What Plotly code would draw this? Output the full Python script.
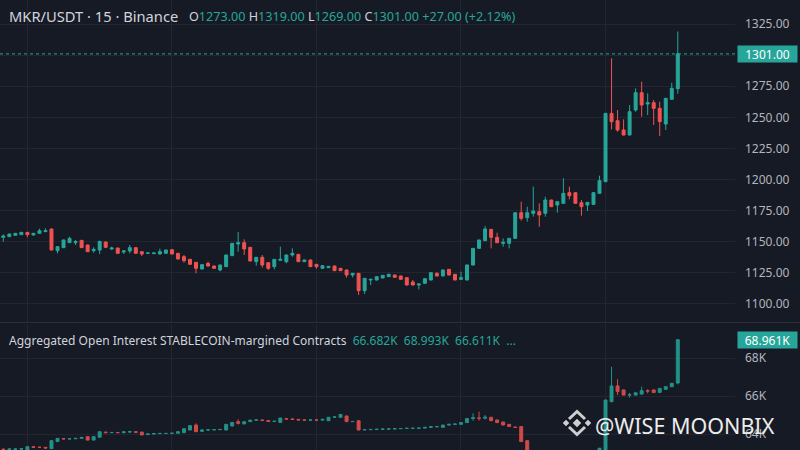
import pandas as pd
import plotly.graph_objects as go
from plotly.subplots import make_subplots

BG = "#161a25"
GRID = "#232632"
UP = "#26a69a"
DOWN = "#ef5350"
TEXT = "#d1d4dc"
AXIS_TEXT = "#b2b5be"
FONT = "Noto Sans"

START = "2024-03-06 23:00"

# MKR/USDT 15m candles
price_open = [
    1153.57, 1154.10, 1155.17, 1155.71, 1157.58, 1155.44, 1156.78, 1158.12, 1160.26, 1142.85,
    1145.26, 1149.28, 1149.28, 1151.15, 1147.40, 1142.85, 1143.39, 1149.81, 1144.19, 1144.99,
    1141.78, 1142.58, 1145.26, 1142.05, 1140.71, 1140.44, 1140.17, 1140.71, 1143.66, 1140.71,
    1138.03, 1135.88, 1133.47, 1128.12, 1132.67, 1130.53, 1127.31, 1129.99, 1138.83, 1148.21,
    1149.28, 1145.53, 1134.01, 1137.49, 1133.21, 1129.99, 1135.08, 1134.01, 1139.37, 1139.90,
    1134.01, 1135.35, 1131.87, 1128.65, 1129.19, 1130.53, 1128.65, 1127.31, 1123.29, 1124.63,
    1110.70, 1119.28, 1119.28, 1120.88, 1121.96, 1123.29, 1122.49, 1121.15, 1117.67, 1115.26,
    1116.60, 1119.28, 1124.63, 1122.49, 1127.85, 1123.83, 1119.81, 1119.28, 1131.33, 1144.72,
    1150.87, 1159.98, 1153.55, 1148.72, 1148.72, 1152.75, 1173.37, 1169.35, 1172.83, 1174.17,
    1172.83, 1183.55, 1179.53, 1180.87, 1189.45, 1189.45, 1181.41, 1179.53, 1180.07, 1188.91,
    1198.29, 1253.20, 1247.31, 1239.81, 1235.79, 1255.88, 1269.82, 1260.71, 1261.78, 1257.22,
    1244.63, 1264.46, 1273.00,
]
price_high = [
    1155.98, 1156.50, 1157.00, 1157.90, 1157.90, 1157.00, 1160.53, 1160.80, 1160.50, 1146.30,
    1151.70, 1154.10, 1151.42, 1151.42, 1147.60, 1145.53, 1150.60, 1150.08, 1146.07, 1145.26,
    1143.39, 1147.40, 1145.53, 1142.30, 1141.24, 1141.24, 1144.46, 1143.60, 1143.92, 1141.00,
    1139.37, 1136.15, 1133.74, 1131.87, 1134.01, 1130.80, 1131.60, 1139.64, 1149.00, 1157.85,
    1151.96, 1145.80, 1137.76, 1139.37, 1133.47, 1136.15, 1146.07, 1139.64, 1144.72, 1140.17,
    1135.60, 1135.60, 1132.10, 1131.07, 1130.53, 1130.80, 1128.90, 1127.58, 1124.90, 1124.90,
    1120.90, 1120.35, 1122.23, 1123.29, 1124.36, 1123.56, 1122.76, 1121.42, 1119.28, 1116.33,
    1120.62, 1125.43, 1125.43, 1127.58, 1128.12, 1124.10, 1125.97, 1131.60, 1145.00, 1151.70,
    1162.66, 1160.25, 1157.30, 1152.75, 1153.00, 1173.60, 1182.21, 1178.19, 1194.27, 1180.87,
    1186.23, 1183.80, 1182.50, 1200.97, 1194.27, 1189.70, 1183.55, 1181.90, 1189.70, 1203.11,
    1253.50, 1297.41, 1255.88, 1248.38, 1259.90, 1273.30, 1278.66, 1269.28, 1263.92, 1262.58,
    1265.50, 1277.85, 1319.00,
]
price_low = [
    1150.08, 1153.80, 1155.00, 1155.50, 1153.57, 1155.20, 1156.50, 1157.90, 1143.10, 1140.71,
    1145.00, 1149.00, 1147.40, 1145.00, 1141.80, 1141.24, 1140.17, 1145.26, 1143.39, 1140.44,
    1140.17, 1140.71, 1140.44, 1138.56, 1140.44, 1140.17, 1139.90, 1140.44, 1139.90, 1135.88,
    1133.21, 1131.60, 1124.63, 1127.85, 1129.99, 1128.38, 1126.24, 1129.70, 1138.56, 1142.05,
    1139.37, 1134.27, 1130.80, 1129.19, 1127.31, 1127.85, 1134.54, 1132.67, 1138.03, 1133.74,
    1133.74, 1129.72, 1128.38, 1128.38, 1128.90, 1126.50, 1126.50, 1121.15, 1121.42, 1107.22,
    1108.02, 1115.26, 1119.00, 1120.62, 1121.70, 1121.15, 1119.55, 1115.00, 1115.00, 1111.77,
    1116.33, 1119.00, 1122.23, 1122.23, 1123.03, 1119.00, 1119.55, 1119.00, 1131.07, 1144.46,
    1150.60, 1144.71, 1149.00, 1146.05, 1144.71, 1152.50, 1166.94, 1166.14, 1170.16, 1162.12,
    1170.16, 1177.90, 1173.37, 1180.60, 1184.09, 1180.60, 1170.96, 1174.70, 1179.80, 1188.60,
    1198.00, 1240.35, 1238.47, 1235.50, 1235.50, 1254.54, 1250.52, 1251.86, 1243.83, 1234.99,
    1239.81, 1264.20, 1269.00,
]
price_close = [
    1154.64, 1156.25, 1156.78, 1157.58, 1155.71, 1156.78, 1158.92, 1158.92, 1143.39, 1146.07,
    1151.42, 1152.76, 1150.08, 1145.26, 1142.05, 1143.92, 1150.35, 1145.53, 1144.99, 1140.71,
    1142.58, 1145.26, 1140.71, 1140.17, 1141.00, 1140.98, 1142.05, 1143.39, 1140.17, 1136.15,
    1134.81, 1131.87, 1128.65, 1131.60, 1130.53, 1128.65, 1131.33, 1139.37, 1148.74, 1149.28,
    1144.19, 1134.54, 1137.49, 1131.33, 1128.65, 1135.88, 1135.88, 1139.37, 1140.71, 1134.01,
    1135.35, 1129.99, 1129.99, 1130.80, 1130.26, 1126.78, 1126.78, 1123.29, 1124.63, 1110.70,
    1120.62, 1119.81, 1121.96, 1123.03, 1123.83, 1121.42, 1119.81, 1115.26, 1115.26, 1116.06,
    1120.35, 1125.17, 1122.49, 1127.31, 1123.29, 1119.28, 1121.15, 1131.33, 1144.72, 1151.42,
    1160.25, 1153.55, 1149.26, 1149.53, 1152.75, 1173.37, 1168.82, 1173.37, 1174.70, 1171.49,
    1183.55, 1178.19, 1182.21, 1188.91, 1187.03, 1180.87, 1178.19, 1181.68, 1189.45, 1199.09,
    1253.20, 1246.51, 1239.81, 1235.79, 1254.54, 1269.82, 1259.90, 1261.78, 1257.22, 1246.51,
    1265.26, 1273.30, 1301.00,
]

# aggregated open interest, thousands of contracts
oi_open = [
    63.20, 63.19, 63.20, 63.21, 63.16, 63.33, 63.30, 63.30, 63.23, 63.60,
    63.76, 63.74, 63.75, 63.77, 63.86, 63.68, 63.83, 64.10, 64.07, 64.08,
    64.07, 64.11, 64.12, 64.10, 63.97, 64.00, 64.02, 64.03, 64.03, 64.04,
    64.07, 64.21, 64.47, 64.14, 64.21, 64.22, 64.23, 64.21, 64.42, 64.65,
    64.53, 64.65, 64.73, 64.74, 64.71, 64.66, 64.61, 64.80, 64.79, 64.77,
    64.74, 64.73, 64.74, 64.73, 64.70, 64.88, 64.88, 64.95, 64.65, 64.70,
    64.22, 64.23, 64.24, 64.25, 64.26, 64.27, 64.28, 64.29, 64.30, 64.30,
    64.31, 64.35, 64.38, 64.35, 64.47, 64.51, 64.51, 64.60, 64.81, 64.84,
    64.83, 64.88, 64.74, 64.63, 64.51, 64.36, 64.39, 63.65, 62.98, 62.82,
    62.72, 62.70, 62.65, 62.70, 62.78, 62.82, 62.88, 62.94, 63.02, 63.12,
    63.16, 65.70, 66.53, 66.32, 66.05, 66.05, 66.10, 66.27, 66.32, 66.19,
    66.35, 66.49, 66.682,
]
oi_high = [
    63.22, 63.22, 63.23, 63.24, 63.35, 63.35, 63.32, 63.31, 63.66, 63.78,
    63.78, 63.77, 63.79, 63.84, 63.87, 63.87, 64.13, 64.12, 64.10, 64.10,
    64.16, 64.17, 64.14, 64.11, 64.01, 64.03, 64.04, 64.05, 64.05, 64.13,
    64.29, 64.45, 64.56, 64.25, 64.23, 64.25, 64.26, 64.52, 64.62, 64.77,
    64.66, 64.74, 64.76, 64.76, 64.74, 64.70, 64.85, 64.83, 64.81, 64.79,
    64.76, 64.76, 64.76, 64.80, 64.89, 64.92, 65.05, 64.96, 64.67, 64.71,
    64.24, 64.25, 64.26, 64.27, 64.28, 64.30, 64.31, 64.32, 64.33, 64.33,
    64.37, 64.40, 64.41, 64.48, 64.53, 64.54, 64.61, 64.82, 65.09, 65.18,
    65.00, 64.89, 64.75, 64.64, 64.52, 64.38, 64.40, 63.66, 63.00, 62.85,
    62.76, 62.74, 62.72, 62.80, 62.84, 62.90, 62.96, 63.05, 63.14, 63.27,
    65.80, 67.54, 66.88, 66.34, 66.16, 66.18, 66.49, 66.35, 66.33, 66.41,
    66.50, 66.68, 68.993,
]
oi_low = [
    63.17, 63.17, 63.18, 63.19, 63.15, 63.28, 63.28, 63.25, 63.22, 63.59,
    63.72, 63.72, 63.74, 63.76, 63.67, 63.67, 63.82, 64.05, 64.05, 64.05,
    64.04, 64.06, 64.07, 63.94, 63.96, 63.99, 64.01, 64.01, 64.00, 64.03,
    64.06, 64.20, 64.11, 64.12, 64.19, 64.20, 64.21, 64.20, 64.41, 64.50,
    64.52, 64.64, 64.70, 64.68, 64.63, 64.63, 64.60, 64.76, 64.75, 64.72,
    64.71, 64.71, 64.71, 64.72, 64.69, 64.86, 64.87, 64.64, 64.63, 64.18,
    64.21, 64.22, 64.22, 64.23, 64.24, 64.25, 64.26, 64.27, 64.28, 64.28,
    64.30, 64.34, 64.36, 64.34, 64.46, 64.49, 64.50, 64.59, 64.70, 64.70,
    64.76, 64.69, 64.59, 64.46, 64.38, 64.33, 63.59, 62.95, 62.80, 62.70,
    62.66, 62.62, 62.63, 62.68, 62.74, 62.80, 62.86, 62.92, 63.00, 63.10,
    63.14, 65.68, 66.05, 66.04, 65.91, 66.03, 66.08, 66.14, 66.17, 66.17,
    66.34, 66.48, 66.611,
]
oi_close = [
    63.19, 63.21, 63.21, 63.22, 63.33, 63.30, 63.30, 63.26, 63.65, 63.77,
    63.74, 63.75, 63.77, 63.82, 63.68, 63.86, 64.12, 64.07, 64.08, 64.07,
    64.11, 64.12, 64.09, 63.95, 64.00, 64.02, 64.03, 64.03, 64.04, 64.12,
    64.28, 64.44, 64.12, 64.21, 64.22, 64.23, 64.24, 64.51, 64.61, 64.56,
    64.65, 64.73, 64.74, 64.71, 64.66, 64.67, 64.84, 64.79, 64.77, 64.74,
    64.73, 64.74, 64.73, 64.77, 64.88, 64.90, 65.03, 64.65, 64.66, 64.21,
    64.23, 64.24, 64.25, 64.26, 64.27, 64.28, 64.29, 64.30, 64.30, 64.31,
    64.35, 64.38, 64.39, 64.47, 64.51, 64.52, 64.60, 64.81, 64.86, 64.83,
    64.88, 64.70, 64.60, 64.47, 64.39, 64.35, 63.60, 62.98, 62.82, 62.72,
    62.70, 62.65, 62.70, 62.78, 62.82, 62.88, 62.94, 63.02, 63.12, 63.25,
    65.79, 66.53, 66.23, 66.05, 66.06, 66.17, 66.28, 66.26, 66.18, 66.40,
    66.49, 66.67, 68.961,
]

price_ticks = [1100, 1125, 1150, 1175, 1200, 1225, 1250, 1275, 1300, 1325]
oi_ticks = [64, 66, 68]
oi_tick_labels = ["64K", "66K", "68K"]

W, H = 800, 450
PLOT_W = 735


def px(x):
    return x / PLOT_W


def py(y):
    return 1 - y / H


def diamond(cx, cy, r):
    return (f"M{px(cx)},{py(cy - r)} L{px(cx + r)},{py(cy)} "
            f"L{px(cx)},{py(cy + r)} L{px(cx - r)},{py(cy)} Z")


times = pd.date_range(START, periods=len(price_open), freq="15min")
step = pd.Timedelta(minutes=15)

fig = make_subplots(rows=2, cols=1, shared_xaxes=True)

fig.add_trace(
    go.Candlestick(
        x=times, open=price_open, high=price_high, low=price_low, close=price_close,
        increasing=dict(line=dict(color=UP, width=1), fillcolor=UP),
        decreasing=dict(line=dict(color=DOWN, width=1), fillcolor=DOWN),
        whiskerwidth=0, name="MKR/USDT",
    ),
    row=1, col=1,
)
fig.add_trace(
    go.Candlestick(
        x=times, open=oi_open, high=oi_high, low=oi_low, close=oi_close,
        increasing=dict(line=dict(color=UP, width=1), fillcolor=UP),
        decreasing=dict(line=dict(color=DOWN, width=1), fillcolor=DOWN),
        whiskerwidth=0, opacity=0.85, name="OI",
    ),
    row=2, col=1,
)

x_range = [times[0] - 0.55 * step, times[0] + 121.5 * step]
fig.update_xaxes(
    range=x_range, rangeslider_visible=False, showticklabels=False,
    showgrid=True, gridcolor=GRID, gridwidth=1, dtick=6 * 3600 * 1000,
    tick0="2024-03-07 00:00", zeroline=False, showline=False,
)
fig.update_layout(
    xaxis=dict(domain=[0, 1]),
    xaxis2=dict(domain=[0, 1]),
    yaxis=dict(
        domain=[py(322), 1], range=[1325 - 298 / 1.2444, 1325 + 24 / 1.2444],
        side="right", tickvals=price_ticks, tickformat=".2f",
    ),
    yaxis2=dict(
        domain=[0, py(324)], range=[68 - 92 / 19, 68 + 34 / 19],
        side="right", tickvals=oi_ticks, ticktext=oi_tick_labels,
    ),
)
fig.update_yaxes(
    autorange=False, showgrid=True, gridcolor=GRID, zeroline=False, showline=False,
    tickfont=dict(color=AXIS_TEXT, size=12, family=FONT), ticklabelstandoff=9,
)

ohlc_text = (
    f"O<span style='color:{UP}'>{price_open[-1]:.2f}</span> "
    f"H<span style='color:{UP}'>{price_high[-1]:.2f}</span> "
    f"L<span style='color:{UP}'>{price_low[-1]:.2f}</span> "
    f"C<span style='color:{UP}'>{price_close[-1]:.2f}</span> "
    f"<span style='color:{UP}'>+27.00 (+2.12%)</span>"
)
oi_text = (
    "Aggregated Open Interest STABLECOIN-margined Contracts  "
    f"<span style='color:{UP}'>{oi_open[-1]:.3f}K  {oi_high[-1]:.3f}K  {oi_low[-1]:.3f}K  ...</span>"
)

annotations = [
    dict(text="MKR/USDT · 15 · Binance", x=px(7), y=py(16), font=dict(size=14.7, color=TEXT)),
    dict(text=ohlc_text, x=px(187), y=py(16), font=dict(size=12.6, color=TEXT)),
    dict(text=oi_text, x=px(7), y=py(340), font=dict(size=12, color=TEXT)),
    dict(text="@WISE MOONBIX", x=px(593), y=py(425), font=dict(size=21.5, color="#ececec")),
]
for a in annotations:
    a.update(xref="paper", yref="paper", xanchor="left", yanchor="middle", showarrow=False)

for value, yref, label in [(price_close[-1], "y", f"{price_close[-1]:.2f}"),
                           (oi_close[-1], "y2", f"{oi_close[-1]:.3f}K")]:
    annotations.append(dict(
        text=label, x=px(737), y=value, xref="paper", yref=yref, xanchor="left",
        yanchor="middle", showarrow=False, bgcolor=UP, width=57, height=14, borderpad=1,
        font=dict(size=12, color="#ffffff"),
    ))

shapes = [
    dict(type="line", xref="paper", yref="y", x0=0, x1=1, y0=price_close[-1], y1=price_close[-1],
         line=dict(color=UP, width=1, dash="dot")),
    dict(type="line", xref="paper", yref="paper", x0=0, x1=W / PLOT_W, y0=py(322.5), y1=py(322.5),
         line=dict(color="#2a2e39", width=1)),
]
LOGO = "#cfcfcf"
logo_cx, logo_cy = 577, 423
for dx, r in [(0, 4), (-11, 3), (11, 3)]:
    shapes.append(dict(type="path", xref="paper", yref="paper",
                       path=diamond(logo_cx + dx, logo_cy, r),
                       fillcolor=LOGO, line=dict(color=LOGO, width=0.5)))
for sign in (-1, 1):
    shapes.append(dict(
        type="path", xref="paper", yref="paper",
        path=(f"M{px(logo_cx - 8)},{py(logo_cy + sign * 4)} "
              f"L{px(logo_cx)},{py(logo_cy + sign * 11.5)} "
              f"L{px(logo_cx + 8)},{py(logo_cy + sign * 4)}"),
        line=dict(color=LOGO, width=3),
    ))

fig.update_layout(
    width=W, height=H,
    margin=dict(l=0, r=W - PLOT_W, t=0, b=0),
    paper_bgcolor=BG, plot_bgcolor=BG,
    font=dict(family=FONT, color=TEXT),
    showlegend=False,
    annotations=annotations,
    shapes=shapes,
    hovermode="x unified",
)

fig.write_html(
    "out.html",
    config={"displayModeBar": False},
    post_script="document.body.style.margin='0';",
)
